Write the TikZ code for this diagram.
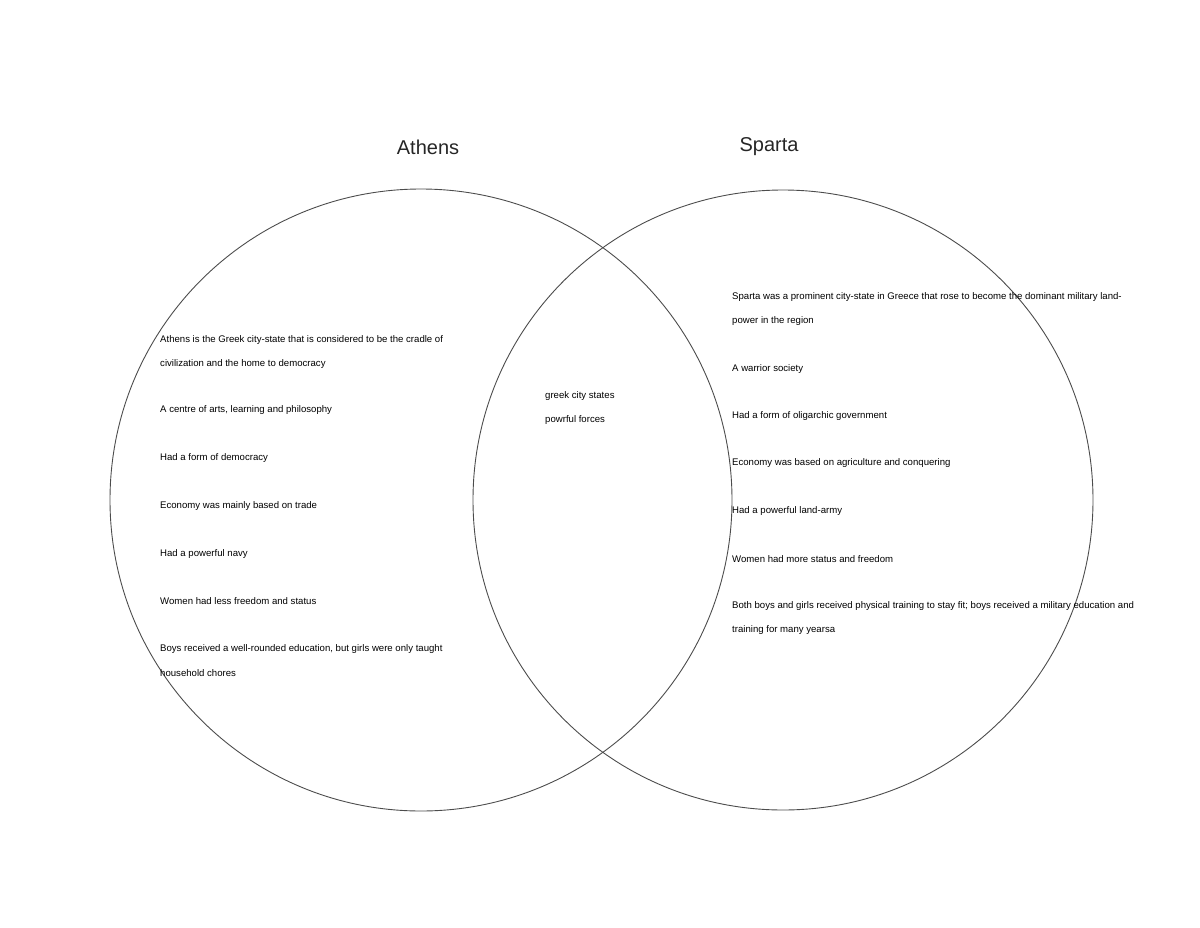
\documentclass[tikz,border=0pt]{standalone}
\usepackage{fontspec}
\setmainfont{Liberation Sans}
\begin{document}
\begin{tikzpicture}[x=1pt,y=-1pt,
  txt/.style={anchor=west,inner sep=0pt,font=\fontsize{9.6}{11}\selectfont},
  ttl/.style={inner sep=0pt,font=\fontsize{20}{24}\selectfont,text=black!85},
  ring/.style={draw=black!70,line width=0.9pt}]
\useasboundingbox (0,0) rectangle (1200,927);
\draw[ring] (421,500) circle (311);
\draw[ring] (783,500) circle (310);
\node[ttl] (ta) at (428,147) {Athens};
\node[ttl] (ts) at (769,147) {Sparta};
\node[txt] (a1) at (160,340) {Athens is the Greek city-state that is considered to be the cradle of};
\node[txt] (a2) at (160,364) {civilization and the home to democracy};
\node[txt] (a3) at (160,410) {A centre of arts, learning and philosophy};
\node[txt] (a4) at (160,458) {Had a form of democracy};
\node[txt] (a5) at (160,506) {Economy was mainly based on trade};
\node[txt] (a6) at (160,554) {Had a powerful navy};
\node[txt] (a7) at (160,601) {Women had less freedom and status};
\node[txt] (a8) at (160,649) {Boys received a well-rounded education, but girls were only taught};
\node[txt] (a9) at (160,673) {household chores};
\node[txt] (c1) at (545,396) {greek city states};
\node[txt] (c2) at (545,420) {powrful forces};
\node[txt] (s1) at (732,297) {Sparta was a prominent city-state in Greece that rose to become the dominant military land-};
\node[txt] (s2) at (732,321) {power in the region};
\node[txt] (s3) at (732,369) {A warrior society};
\node[txt] (s4) at (732,416) {Had a form of oligarchic government};
\node[txt] (s5) at (732,463) {Economy was based on agriculture and conquering};
\node[txt] (s6) at (732,511) {Had a powerful land-army};
\node[txt] (s7) at (732,559) {Women had more status and freedom};
\node[txt] (s8) at (732,606) {Both boys and girls received physical training to stay fit; boys received a military education and};
\node[txt] (s9) at (732,630) {training for many yearsa};
\end{tikzpicture}
\end{document}
